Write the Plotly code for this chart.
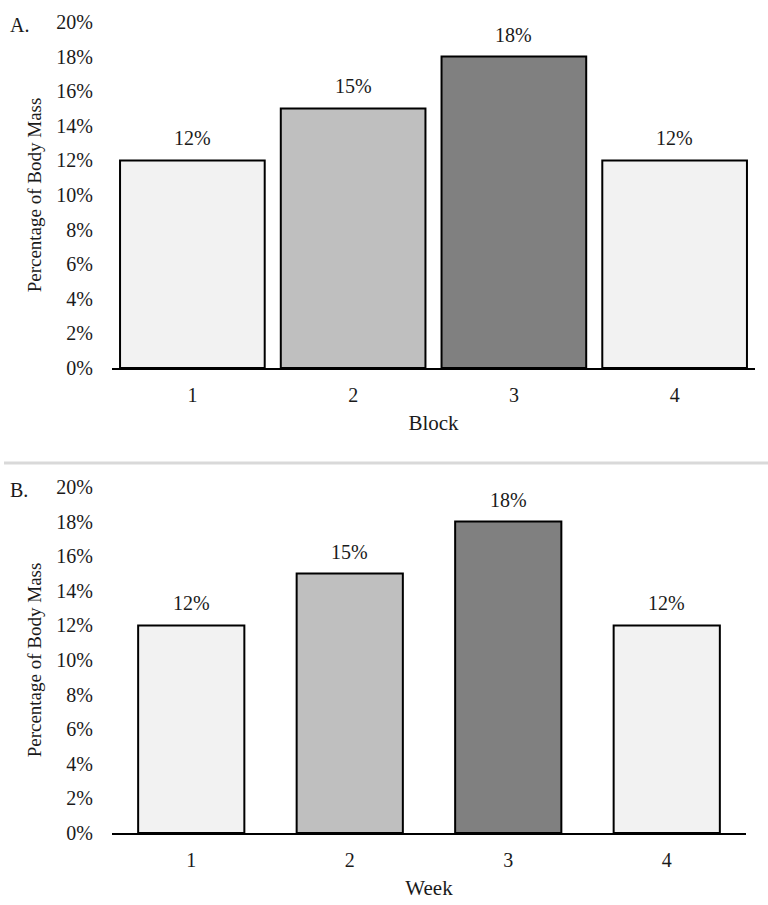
import plotly.graph_objects as go
from plotly.subplots import make_subplots

# data
categories = ["1", "2", "3", "4"]
block_values = [0.12, 0.15, 0.18, 0.12]
week_values = [0.12, 0.15, 0.18, 0.12]
bar_colors = ["#f2f2f2", "#bfbfbf", "#808080", "#f2f2f2"]
y_ticks = [0, 0.02, 0.04, 0.06, 0.08, 0.10, 0.12, 0.14, 0.16, 0.18, 0.20]

W, H = 768, 905
font = dict(family="Liberation Serif", size=20, color="#1a1a1a")

fig = make_subplots(rows=2, cols=1)

fig.add_trace(
    go.Bar(
        x=categories,
        y=block_values,
        marker=dict(color=bar_colors, line=dict(color="black", width=2)),
        width=0.9,
    ),
    row=1, col=1,
)
fig.add_trace(
    go.Bar(
        x=categories,
        y=week_values,
        marker=dict(color=bar_colors, line=dict(color="black", width=2)),
        width=0.67,
    ),
    row=2, col=1,
)

# value labels above the bars (category axis -> position by index)
for xr, yr, vals in [("x", "y", block_values), ("x2", "y2", week_values)]:
    for i, v in enumerate(vals):
        fig.add_annotation(x=i, y=v, xref=xr, yref=yr, text=f"{v:.0%}",
                           showarrow=False, yanchor="bottom", yshift=9, font=font)

fig.update_layout(
    width=W,
    height=H,
    autosize=False,
    margin=dict(l=0, r=0, t=0, b=0),
    plot_bgcolor="white",
    paper_bgcolor="white",
    font=font,
    showlegend=False,
    xaxis=dict(domain=[112 / W, 755 / W]),
    yaxis=dict(domain=[1 - 368 / H, 1 - 22 / H]),
    xaxis2=dict(domain=[112 / W, 746 / W]),
    yaxis2=dict(domain=[1 - 833 / H, 1 - 487 / H]),
)

fig.update_xaxes(
    range=[-0.5, 3.5],
    showline=True,
    linecolor="black",
    linewidth=2,
    showgrid=False,
    ticks="",
    automargin=False,
    ticklabelstandoff=8,
    title_standoff=10,
    title_font=dict(family="Liberation Serif", size=21, color="#1a1a1a"),
)
fig.update_xaxes(title_text="Block", row=1, col=1)
fig.update_xaxes(title_text="Week", row=2, col=1)

fig.update_yaxes(
    range=[0, 0.2],
    tickvals=y_ticks,
    tickformat=".0%",
    showgrid=False,
    showline=False,
    zeroline=False,
    ticks="",
    automargin=False,
    ticklabelstandoff=18,
    title_text="Percentage of Body Mass",
    title_font=dict(family="Liberation Serif", size=19, color="#1a1a1a"),
    title_standoff=9,
)

# panel labels
fig.add_annotation(text="A.", x=8 / W, y=1 - 25 / H, xref="paper", yref="paper",
                   showarrow=False, xanchor="left", yanchor="middle", font=font)
fig.add_annotation(text="B.", x=8 / W, y=1 - 490 / H, xref="paper", yref="paper",
                   showarrow=False, xanchor="left", yanchor="middle", font=font)

# separator between panels
fig.add_shape(type="line", xref="paper", yref="paper",
              x0=4 / W, x1=1, y0=1 - 463 / H, y1=1 - 463 / H,
              line=dict(color="#d9d9d9", width=3))

# drop the default page margin so the figure fills the window exactly
fig.write_html("out.html", config={"displayModeBar": False},
               post_script="document.body.style.margin='0';")
